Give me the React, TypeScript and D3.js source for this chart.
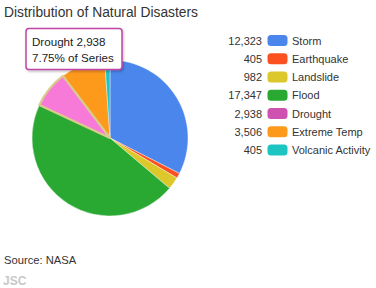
import React from "react";
import * as d3 from "d3";

const categories = ["Storm", "Earthquake", "Landslide", "Flood", "Drought", "Extreme Temp", "Volcanic Activity"];
const values = [12323, 405, 982, 17347, 2938, 3506, 405];
const colors = ["#4a86ec", "#fb5020", "#dcc82a", "#29a832", "#cf52b0", "#fd9a1c", "#1cc5c2"];
const hoverColor = "#f77ad9";
const hoveredIndex = 4;
const title = "Distribution of Natural Disasters";
const source = "Source: NASA";

const FONT = "'Liberation Sans', Arial, sans-serif";

export default function App() {
  const W = 376, H = 288;
  const cx = 110, cy = 138, r = 78;
  const data = categories.map((c, i) => ({ c, v: values[i], i }));
  const pie = d3.pie<any>().value((d) => d.v).sort(null);
  const arcs = pie(data);
  const arc = d3.arc<any>().innerRadius(0).outerRadius(r);
  const total = d3.sum(values);
  const fmt = d3.format(",");
  const legendY = d3.scaleLinear().domain([0, categories.length - 1]).range([40.5, 150]);
  const h = arcs[hoveredIndex];
  const pct = ((values[hoveredIndex] / total) * 100).toFixed(2);
  return (
    <svg width={W} height={H} style={{ position: "absolute", left: 0, top: 0, background: "#fff" }} fontFamily={FONT}>
      <defs>
        <filter id="sh" x="-10%" y="-10%" width="130%" height="140%">
          <feDropShadow dx="1" dy="1.5" stdDeviation="1.2" floodColor="#000" floodOpacity="0.25" />
        </filter>
      </defs>
      <text x={4} y={17} fontSize={13.8} fill="#333">{title}</text>
      <g transform={`translate(${cx},${cy})`}>
        {arcs.map((a, i) => (
          i === hoveredIndex ? null :
          <path key={i} d={arc(a) || ""} fill={colors[i]} stroke="#fff" strokeWidth={0.4} />
        ))}
        <path d={arc(h) || ""} fill={hoverColor} stroke="#d9cc8a" strokeWidth={2.2} strokeLinejoin="round" />
      </g>
      {categories.map((c, i) => (
        <g key={c} transform={`translate(0,${legendY(i)})`}>
          <text x={262} y={4} fontSize={11} fill="#333" textAnchor="end">{fmt(values[i])}</text>
          <rect x={267.5} y={-5.5} width={20} height={11} rx={3.5} fill={colors[i]} />
          <text x={292} y={4} fontSize={11} fill="#333">{c}</text>
        </g>
      ))}
      <g filter="url(#sh)">
        <rect x={26} y={28.5} width={96} height={41} rx={3} fill="#fff" stroke="#c044a4" strokeWidth={1.5} />
      </g>
      <text x={32} y={46} fontSize={11.6} fill="#222">{`${categories[hoveredIndex]} ${fmt(values[hoveredIndex])}`}</text>
      <text x={32} y={61.5} fontSize={11.6} fill="#222">{`${pct}% of Series`}</text>
      <text x={4} y={264} fontSize={11.2} fill="#333">{source}</text>
      <text x={3} y={285} fontSize={12} fill="#c8c8c8" fontWeight="bold">JSC</text>
    </svg>
  );
}
